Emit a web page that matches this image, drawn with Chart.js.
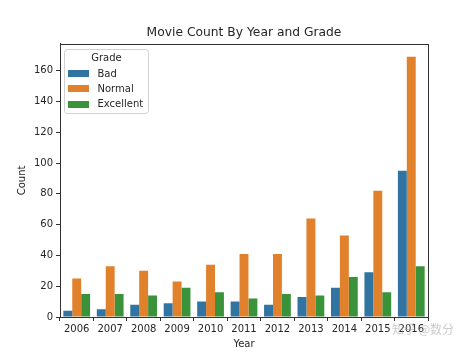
<!DOCTYPE html>
<html><head><meta charset="utf-8">
<script src="https://cdn.jsdelivr.net/npm/chart.js@4"></script>
<style>html,body{margin:0;padding:0;background:#fff}#w{width:474px;height:355px}</style>
</head><body><div id="w"><canvas id="c" width="474" height="355"></canvas></div>
<script>
const years = ['2006','2007','2008','2009','2010','2011','2012','2013','2014','2015','2016'];
const bad       = [4, 5, 8, 9, 10, 10, 8, 13, 19, 29, 95];
const normal    = [25, 33, 30, 23, 34, 41, 41, 64, 53, 82, 169];
const excellent = [15, 15, 14, 19, 16, 12, 15, 14, 26, 16, 33];
const seriesNames = ['Bad', 'Normal', 'Excellent'];
const legendTitle = 'Grade';
const yTicks = [0, 20, 40, 60, 80, 100, 120, 140, 160];

const FONT = 'DejaVu Sans';
const TXT = '#262626';

const framePlugin = {
  id: 'frame',
  afterDatasetsDraw(chart) {
    const a = chart.chartArea, ctx = chart.ctx;
    ctx.save();
    ctx.strokeStyle = '#333';
    ctx.lineWidth = 1;
    ctx.strokeRect(Math.round(a.left) + 0.5, Math.round(a.top) + 0.5,
                   Math.round(a.right - a.left), Math.round(a.bottom - a.top));
    ctx.restore();
  },
  afterDraw(chart) {
    const ctx = chart.ctx, a = chart.chartArea;
    // legend inside the plot area, upper left
    const x = Math.round(a.left) + 4.5, y = Math.round(a.top) + 5.5, w = 84, h = 64, r = 3;
    ctx.save();
    ctx.fillStyle = 'rgba(255,255,255,0.8)';
    ctx.strokeStyle = '#d0d0d0';
    ctx.lineWidth = 1;
    ctx.beginPath();
    ctx.moveTo(x + r, y);
    ctx.arcTo(x + w, y, x + w, y + h, r);
    ctx.arcTo(x + w, y + h, x, y + h, r);
    ctx.arcTo(x, y + h, x, y, r);
    ctx.arcTo(x, y, x + w, y, r);
    ctx.closePath();
    ctx.fill();
    ctx.stroke();
    ctx.font = '10px "' + FONT + '"';
    ctx.fillStyle = TXT;
    ctx.textBaseline = 'middle';
    ctx.textAlign = 'center';
    ctx.fillText(legendTitle, x + w / 2, y + 8.5);
    ctx.textAlign = 'left';
    chart.data.datasets.forEach((ds, i) => {
      const cy = y + 24 + i * 15.3;
      ctx.fillStyle = ds.backgroundColor;
      ctx.fillRect(Math.round(x) + 3, Math.round(cy - 3.5), 21, 7);
      ctx.fillStyle = TXT;
      ctx.fillText(ds.label, x + 33, cy + 0.5);
    });
    ctx.restore();
    // watermark
    ctx.save();
    ctx.font = '12px "Noto Sans CJK SC"';
    ctx.fillStyle = 'rgba(160,160,160,0.55)';
    ctx.textBaseline = 'middle';
    ctx.fillText('知乎 @数分', 392, 329);
    ctx.restore();
  }
};

new Chart(document.getElementById('c'), {
  type: 'bar',
  data: {
    labels: years,
    datasets: [
      { label: seriesNames[0], data: bad, backgroundColor: '#3274a1' },
      { label: seriesNames[1], data: normal, backgroundColor: '#e1812c' },
      { label: seriesNames[2], data: excellent, backgroundColor: '#3a923a' }
    ]
  },
  options: {
    responsive: false,
    animation: false,
    layout: { padding: { left: 0, right: 46, top: 0, bottom: 0 } },
    datasets: { bar: { categoryPercentage: 0.8, barPercentage: 1.0 } },
    plugins: {
      title: {
        display: true, fullSize: false, text: 'Movie Count By Year and Grade', color: TXT,
        font: { family: FONT, size: 12.3, weight: 'normal' },
        padding: { top: 25, bottom: 4 }
      },
      legend: { display: false },
      tooltip: { enabled: false }
    },
    scales: {
      x: {
        grid: { display: true, drawOnChartArea: false, drawTicks: true, tickLength: 4, color: '#333' },
        border: { display: true, color: '#333' },
        ticks: { color: TXT, font: { family: FONT, size: 10 }, padding: 2, maxRotation: 0, autoSkip: false },
        title: { display: true, text: 'Year', color: TXT, font: { family: FONT, size: 10 }, padding: { top: 0, bottom: 5 } },
        afterFit(s) { s.height = 38; }
      },
      y: {
        min: 0, max: 177.5,
        grid: { display: true, drawOnChartArea: false, drawTicks: true, tickLength: 4, color: '#333' },
        border: { display: true, color: '#333' },
        ticks: { color: TXT, font: { family: FONT, size: 10 }, padding: 3, stepSize: 20 },
        afterBuildTicks(s) { s.ticks = yTicks.map(v => ({ value: v })); },
        title: { display: true, text: 'Count', color: TXT, font: { family: FONT, size: 10 }, padding: { top: 16, bottom: 0 } },
        afterFit(s) { s.width = 60; }
      }
    }
  },
  plugins: [framePlugin]
});
</script></body></html>
